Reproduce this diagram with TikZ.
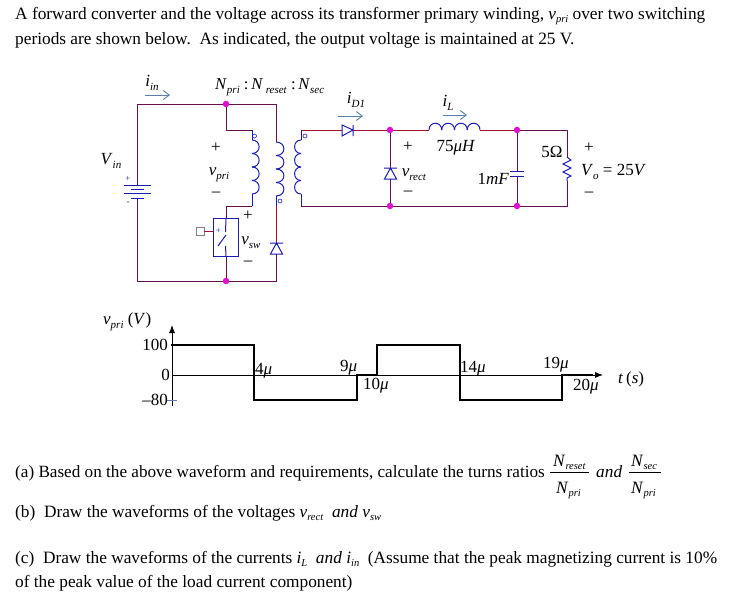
\documentclass[tikz,border=0pt]{standalone}
\usepackage{fontspec}
\usetikzlibrary{arrows.meta}
\setmainfont{Liberation Serif}
\definecolor{wirepurple}{HTML}{650F50}
\definecolor{wirered}{HTML}{A5122D}
\definecolor{compblue}{HTML}{1C1CB4}
\definecolor{dotpink}{HTML}{E010D0}
\definecolor{arrowblue}{HTML}{5B7FA8}
\newcommand{\subt}[1]{\raisebox{-0.5ex}{\fontsize{10.5}{10.5}\selectfont\textit{#1}}}
\newcommand{\subl}[1]{\raisebox{-0.5ex}{\fontsize{11}{11}\selectfont\textit{#1}}}
\newcommand{\hcoil}[3]{% x, top y, bulge
  \foreach \k in {0,1,2,3}
    \draw[comp] ({#1},{#2+13.5*\k}) .. controls ({#1+#3},{#2+13.5*\k}) and ({#1+#3},{#2+13.5*\k+13.5}) .. ({#1},{#2+13.5*\k+13.5});}
\tikzset{
  txt/.style={anchor=base west,inner sep=0pt,font=\fontsize{17.3}{17.3}\selectfont},
  lab/.style={inner sep=0pt,font=\fontsize{17}{17}\selectfont},
  wire/.style={wirepurple,line width=1pt},
  stub/.style={wirered,line width=1pt},
  comp/.style={compblue,line width=1pt},
  jdot/.style={circle,fill=dotpink,inner sep=0pt,minimum size=6.5pt},
  pin/.style={circle,draw=compblue,line width=0.6pt,inner sep=0pt,minimum size=4pt},
  cur/.style={arrowblue,line width=0.9pt,-{Straight Barb[length=6pt,width=9pt]}},
  wave/.style={line width=1.9pt,line cap=rect},
  axis/.style={line width=0.8pt,-{Latex[length=8pt,width=6pt]}}
}
\begin{document}
\begin{tikzpicture}[x=1pt,y=-1pt]
  \useasboundingbox (0,0) rectangle (740,600);

  % text above
  \node[txt] (line1) at (15,19) {A forward converter and the voltage across its transformer primary winding, \textit{v}\subt{pri} over two switching};
  \node[txt] (line2) at (15,44) {periods are shown below.\ \ As indicated, the output voltage is maintained at 25 V.};

  % junctions
  \node[jdot] (dtop) at (226,104) {};
  \node[jdot] (dbot) at (226,281) {};
  \node[jdot] (drecttop) at (390,130) {};
  \node[jdot] (drectbot) at (390,206) {};
  \node[jdot] (dcaptop) at (517,130) {};
  \node[jdot] (dcapbot) at (517,206) {};

  \coordinate (topleft) at (137,104);
  \coordinate (botleft) at (137,281);
  \coordinate (battop) at (137,185);
  \coordinate (batbot) at (137,198);
  \coordinate (topright) at (276,104);
  \coordinate (botright) at (276,281);
  \coordinate (pritop) at (252,130);
  \coordinate (pribot) at (252,206);
  \coordinate (swtop) at (226,218);
  \coordinate (swbot) at (226,256);
  \coordinate (rsttop) at (276,142);
  \coordinate (rstbot) at (276,206);
  \coordinate (dresettop) at (276,243);
  \coordinate (dresetbot) at (276,254);
  \coordinate (sectop) at (301,130);
  \coordinate (secbot) at (301,206);
  \coordinate (done) at (342,130);
  \coordinate (doneout) at (353,130);
  \coordinate (ltop) at (429,130);
  \coordinate (lbot) at (480,130);
  \coordinate (rtop) at (567,130);
  \coordinate (rbot) at (567,206);
  \coordinate (rhi) at (567,157);
  \coordinate (rlo) at (567,181);
  \coordinate (capup) at (517,171);
  \coordinate (capdn) at (517,176);
  \coordinate (drup) at (390,168);
  \coordinate (drdn) at (390,179);

  % wires
  \draw[wire] (battop) -- (topleft) -- (dtop);
  \draw[wire] (dtop) -- (topright) -- (rsttop);
  \draw[wire] (dtop) |- (pritop);
  \draw[wire] (batbot) -- (botleft) -- (dbot);
  \draw[wire] (dbot) -- (botright) -- (dresetbot);
  \draw[wire] (pribot) -- (226,206) -- (swtop);
  \draw[wire] (swbot) -- (dbot);
  \draw[stub] (dresettop) -- (rstbot);
  \draw[stub] (sectop) -- (done);
  \draw[stub] (doneout) -- (drecttop);
  \draw[stub] (drecttop) -- (ltop);
  \draw[stub] (lbot) -- (dcaptop);
  \draw[wire] (dcaptop) -- (rtop) -- (rhi);
  \draw[wire] (rlo) -- (rbot) -- (dcapbot);
  \draw[wire] (dcapbot) -- (drectbot) -- (secbot);
  \draw[wire] (drecttop) -- (drup);
  \draw[wire] (drdn) -- (drectbot);
  \draw[wire] (dcaptop) -- (capup);
  \draw[wire] (capdn) -- (dcapbot);

  % battery
  \draw[comp] (124,185) -- (151,185) (131,189) -- (144,189) (124,193) -- (151,193) (131,198) -- (144,198);
  \node[inner sep=0pt,compblue,font=\fontsize{9}{9}\selectfont] (batplus) at (128,179) {+};
  \node[inner sep=0pt,compblue,font=\fontsize{9}{9}\selectfont] (batminus) at (128,203) {-};

  % transformer
  \draw[comp] (pritop) -- (252,140) (252,194) -- (pribot);
  \hcoil{252}{140}{9.5}
  \draw[comp] (rsttop) -- (276,142) (276,196) -- (rstbot);
  \hcoil{276}{142}{10.5}
  \draw[comp] (sectop) -- (301,140) (301,194) -- (secbot);
  \hcoil{301}{140}{-8.5}
  \node[pin] (dotpri) at (254.5,136) {};
  \node[pin] (dotrst) at (280,201) {};
  \node[pin] (dotsec) at (305,136) {};

  % switch
  \draw[comp] (213,218) rectangle (238.5,256.5);
  \draw[comp] (swtop) -- (225.5,232) (218,246) -- (226,235) (225.5,246) -- (swbot);
  \node[inner sep=0pt,compblue,font=\fontsize{9}{9}\selectfont] (swplus) at (218.5,231) {+};
  \node[draw=gray,line width=0.8pt,inner sep=0pt,minimum size=8pt] (swgate) at (200,231) {};
  \draw[stub] (swgate) -- (213,231);

  % diodes
  \draw[comp] (270,243) -- (283,243) (276.5,243) -- (270.5,254) -- (282.5,254) -- cycle;
  \draw[comp] (342,125) -- (342,136) -- (353,130) -- cycle (353,125) -- (353,136);
  \draw[comp] (384,168) -- (397,168) (390.5,168) -- (384.5,179) -- (396.5,179) -- cycle;

  % output inductor, capacitor, resistor
  \foreach \k in {0,1,2,3}
    \draw[comp] ({429+12.75*\k},130) .. controls ({429+12.75*\k},121) and ({429+12.75*\k+12.75},121) .. ({429+12.75*\k+12.75},130);
  \draw[comp] (510,171) -- (524,171) (510,176) -- (524,176);
  \draw[comp] (rhi) -- (571,160) -- (563,164) -- (571,168) -- (563,172) -- (571,176) -- (567,178) -- (rlo);

  % circuit labels
  \node[lab] (lblin) at (152,83) {\textit{i}\subl{in}};
  \draw[cur] (145,95) -- (170,95);
  \node[lab,anchor=west,font=\fontsize{16.5}{16.5}\selectfont] (lblturns) at (215,87) {\textit{N}\subl{pri} :\,\textit{N}\,\subl{reset} :\,\textit{N}\subl{sec}};
  \node[lab] (lblid) at (356,100) {\textit{i}\subl{D1}};
  \draw[cur] (338,116) -- (363,116);
  \node[lab] (lblil) at (448,103) {\textit{i}\subl{L}};
  \draw[cur] (443,115) -- (467,115);
  \node[lab] (lblvin) at (111,161) {\textit{V}\subl{in}};
  \node[lab] (lblpriplus) at (216,148) {+};
  \node[lab] (lblvpri) at (219,175) {\textit{v}\subl{pri}};
  \node[lab] (lblpriminus) at (216,194) {--};
  \node[lab] (lblswplus) at (248,216) {+};
  \node[lab] (lblvsw) at (251,243) {\textit{v}\subl{sw}};
  \node[lab] (lblswminus) at (248,263) {--};
  \node[lab] (lblrplus) at (408,147) {+};
  \node[lab] (lblvrect) at (414,175) {\textit{v}\subl{rect}};
  \node[lab] (lblrminus) at (408,193) {--};
  \node[lab] (lblind) at (456,148) {75\textit{μH}};
  \node[lab,anchor=east] (lblcap) at (509,179) {1\textit{mF}};
  \node[lab] (lblres) at (552,152) {5Ω};
  \node[lab] (lbloplus) at (589,148) {+};
  \node[lab,anchor=west] (lblvo) at (581,172) {\textit{V}\subl{o} = 25\textit{V}};
  \node[lab] (lblominus) at (589,194) {--};

  % waveform
  \coordinate (origin) at (172,375);
  \coordinate (axisbot) at (172,406);
  \coordinate (axistop) at (172,325);
  \coordinate (axisend) at (603,375);
  \draw[axis] (axisbot) -- (axistop);
  \draw[axis] (origin) -- (axisend);
  \draw[wave] (172,345) -- (254,345) -- (254,400) -- (357,400) -- (357,375) -- (377,375) -- (377,345) -- (460,345) -- (460,400) -- (562,400) -- (562,375) -- (592,375);
  \draw[arrowblue,line width=1pt] (167,400) -- (177,400);
  \node[lab,anchor=east] (lbl100) at (168,345) {100};
  \node[lab,anchor=east] (lbl0) at (170,375) {0};
  \node[lab,anchor=east] (lbl80) at (168,400) {--80};
  \node[lab,anchor=west] (lblaxisv) at (103,322) {\textit{v}\subl{pri} (\textit{V})};
  \node[lab,anchor=west] (lbl4) at (255,371) {4\textit{μ}};
  \node[lab,anchor=west] (lbl9) at (340,368) {9\textit{μ}};
  \node[lab,anchor=west] (lbl10) at (363,386) {10\textit{μ}};
  \node[lab,anchor=west] (lbl14) at (460,369) {14\textit{μ}};
  \node[lab,anchor=west] (lbl19) at (543,365) {19\textit{μ}};
  \node[lab,anchor=west] (lbl20) at (573,387) {20\textit{μ}};
  \node[lab,anchor=west] (lblaxist) at (618,379) {\textit{t}\,(\textit{s})};

  % questions
  \node[txt,font=\fontsize{17.15}{17.15}\selectfont] (parta) at (15,477) {(a) Based on the above waveform and requirements, calculate the turns ratios};
  \coordinate (fraconel) at (550,472);
  \coordinate (fraconer) at (589,472);
  \coordinate (fractwol) at (629,472);
  \coordinate (fractwor) at (661,472);
  \draw[line width=0.6pt] (fraconel) -- (fraconer);
  \draw[line width=0.6pt] (fractwol) -- (fractwor);
  \node[txt] (fraconenum) at (553,466) {\textit{N}\subt{reset}};
  \node[txt] (fracondenom) at (556,493) {\textit{N}\subt{pri}};
  \node[txt] (partaand) at (596,477) {\textit{and}};
  \node[txt] (fractwonum) at (631,466) {\textit{N}\subt{sec}};
  \node[txt] (fractwodenom) at (631,493) {\textit{N}\subt{pri}};
  \node[txt] (partb) at (15,517) {(b)\ \ Draw the waveforms of the voltages \textit{v}\subt{rect}\ \ \textit{and} \textit{v}\subt{sw}};
  \node[txt] (partc) at (15,563) {(c)\ \ Draw the waveforms of the currents \textit{i}\subt{L}\ \ \textit{and} \textit{i}\subt{in}\ \ (Assume that the peak magnetizing current is 10\%};
  \node[txt] (partcend) at (15,587) {of the peak value of the load current component)};
\end{tikzpicture}
\end{document}
